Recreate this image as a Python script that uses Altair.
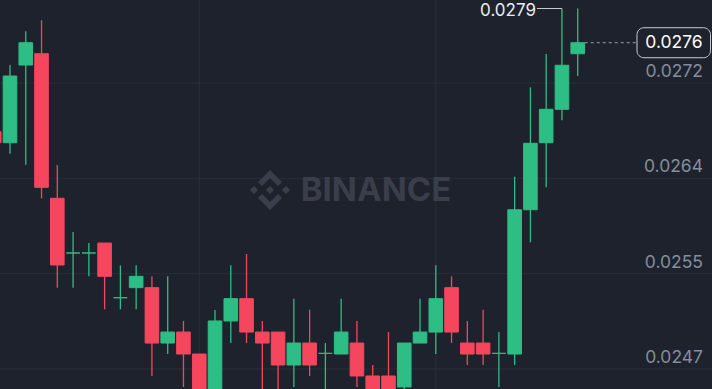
import altair as alt
import pandas as pd
import numpy as np

# ---- data ----
candle_idx = list(range(-1, 37))
opens = [0.026774, 0.026678, 0.027357, 0.027456, 0.026192, 0.025714, 0.025714, 0.025801,
         0.025323, 0.025411, 0.025411, 0.024927, 0.025023, 0.024831, 0.024460, 0.025120,
         0.025315, 0.025023, 0.025023, 0.024735, 0.024927, 0.024837, 0.024831, 0.024927,
         0.024639, 0.024639, 0.024543, 0.024927, 0.025023, 0.025411, 0.024927, 0.024927,
         0.024837, 0.024831, 0.026092, 0.026678, 0.026970, 0.027456]
highs = [0.026850, 0.027357, 0.027652, 0.027748, 0.026483, 0.025898, 0.025801, 0.025801,
         0.025606, 0.025606, 0.025510, 0.025510, 0.025120, 0.024831, 0.025216, 0.025606,
         0.025705, 0.025120, 0.025023, 0.025315, 0.025218, 0.024927, 0.025315, 0.025120,
         0.024735, 0.025023, 0.024927, 0.025315, 0.025606, 0.025510, 0.025120, 0.025218,
         0.025023, 0.026381, 0.027162, 0.027454, 0.027851, 0.027851]
lows = [0.026600, 0.026582, 0.026486, 0.026192, 0.025411, 0.025411, 0.025510, 0.025222,
        0.025222, 0.025222, 0.024639, 0.024831, 0.024543, 0.024400, 0.024400, 0.024927,
        0.024927, 0.024400, 0.024400, 0.024543, 0.024639, 0.024400, 0.024831, 0.024543,
        0.024400, 0.024400, 0.024520, 0.024927, 0.024831, 0.024927, 0.024735, 0.024735,
        0.024543, 0.024735, 0.025808, 0.026288, 0.026874, 0.027261]
closes = [0.026678, 0.027261, 0.027552, 0.026288, 0.025609, 0.025714, 0.025714, 0.025510,
          0.025323, 0.025510, 0.024927, 0.025023, 0.024831, 0.024460, 0.025120, 0.025315,
          0.025023, 0.024927, 0.024735, 0.024927, 0.024735, 0.024837, 0.025023, 0.024639,
          0.024500, 0.024500, 0.024927, 0.025023, 0.025315, 0.025023, 0.024831, 0.024831,
          0.024837, 0.026092, 0.026673, 0.026970, 0.027355, 0.027552]
price_ticks = [0.0272, 0.0263667, 0.0255333, 0.0247]
vgrid_idx = [12, 27]

BG = "#1e222d"
GRID = "#2a2e39"
UP = "#2ebd85"
DOWN = "#f6465d"
LABEL = "#848e9c"
WM = "#393e4a"
FONT = "Inter"
FS = 17.5

df = pd.DataFrame(dict(k=candle_idx, open=opens, high=highs, low=lows, close=closes))
df["dir"] = np.where(df["close"] >= df["open"], "up", "down")
ticks_df = pd.DataFrame(dict(p=price_ticks))
vgrid_df = pd.DataFrame(dict(k=vgrid_idx))
last_df = df.tail(1)
hi_df = df.loc[[df["high"].idxmax()]]

xs = alt.Scale(domain=[-0.634, 44.515], nice=False, zero=False, padding=0)
ys = alt.Scale(domain=[0.0245252, 0.0279255], nice=False, zero=False, padding=0)
cs = alt.Scale(domain=["up", "down"], range=[UP, DOWN])

X = lambda f: alt.X(f, type="quantitative", scale=xs, axis=None)
Y = lambda f: alt.Y(f, type="quantitative", scale=ys, axis=None)

hgrid = alt.Chart(ticks_df).mark_rule(color=GRID, strokeWidth=1).encode(
    y=Y("p"), x=alt.value(0), x2=alt.value(712))
vgrid = alt.Chart(vgrid_df).mark_rule(color=GRID, strokeWidth=1).encode(
    x=X("k"), y=alt.value(0), y2=alt.value(389))

logo_path = ("M0,-0.2L0.2,0L0,0.2L-0.2,0Z "
             "M-1,0L-0.8,-0.2L-0.6,0L-0.8,0.2Z "
             "M1,0L0.8,-0.2L0.6,0L0.8,0.2Z "
             "M0,-1L0.6,-0.4L0.4,-0.2L0,-0.6L-0.4,-0.2L-0.6,-0.4Z "
             "M0,1L0.6,0.4L0.4,0.2L0,0.6L-0.4,0.2L-0.6,0.4Z")
wm_df = pd.DataFrame(dict(t=["BINANCE"]))
wm_text = alt.Chart(wm_df).mark_text(
    font=FONT, fontSize=33, fontWeight="bold", color=WM, align="center", baseline="middle"
).encode(text="t:N", x=alt.value(376), y=alt.value(191))
wm_logo = alt.Chart(wm_df).mark_point(
    shape=logo_path, filled=True, color=WM, opacity=1, size=1600, strokeWidth=0
).encode(x=alt.value(270), y=alt.value(190))

wicks = alt.Chart(df).mark_rule(strokeWidth=1.3, clip=True).encode(
    x=X("k"), y=Y("low"), y2="high",
    color=alt.Color("dir:N", scale=cs, legend=None))
bodies = alt.Chart(df).mark_bar(size=13.6, strokeWidth=1, clip=True).encode(
    x=X("k"), y=Y("open"), y2="close",
    fill=alt.Fill("dir:N", scale=cs, legend=None),
    stroke=alt.Stroke("dir:N", scale=cs, legend=None))

axis_labels = alt.Chart(ticks_df).mark_text(
    font=FONT, fontSize=FS, color=LABEL, align="right", baseline="bottom", dy=-2
).encode(y=Y("p"), x=alt.value(703), text=alt.Text("p:Q", format=".4f"))

hi_rule = alt.Chart(hi_df).mark_rule(color="#c9ccd1", strokeWidth=1, xOffset=-25).encode(
    x=X("k"), x2="k", y=Y("high"))
hi_text = alt.Chart(hi_df).mark_text(
    font=FONT, fontSize=17, color="#eaecef", align="right", baseline="middle", dx=-26, dy=2
).encode(x=X("k"), y=Y("high"), text=alt.Text("high:Q", format=".4f"))

dash = alt.Chart(last_df).mark_rule(color="#9aa0aa", strokeWidth=1, strokeDash=[3, 3], xOffset=7).encode(
    x=X("k"), x2=alt.value(637), y=Y("close"))
box = alt.Chart(last_df).mark_rect(
    fill=BG, stroke="#c8ccd2", strokeWidth=1, cornerRadius=7, yOffset=-15, y2Offset=15
).encode(x=alt.value(637), x2=alt.value(710.5), y=Y("close"), y2="close")
box_text = alt.Chart(last_df).mark_text(
    font=FONT, fontSize=FS, color="#ffffff", align="center", baseline="middle"
).encode(x=alt.value(674), y=Y("close"), text=alt.Text("close:Q", format=".4f"))

chart = alt.layer(
    hgrid, vgrid, wm_logo, wm_text, wicks, bodies, axis_labels,
    hi_rule, hi_text, dash, box, box_text
).properties(
    width=712, height=389, padding=0,
    autosize=alt.AutoSizeParams(type="none"),
    background=BG,
).configure_view(strokeWidth=0)

chart.save("out.html", embed_options={"renderer": "svg", "actions": False})
